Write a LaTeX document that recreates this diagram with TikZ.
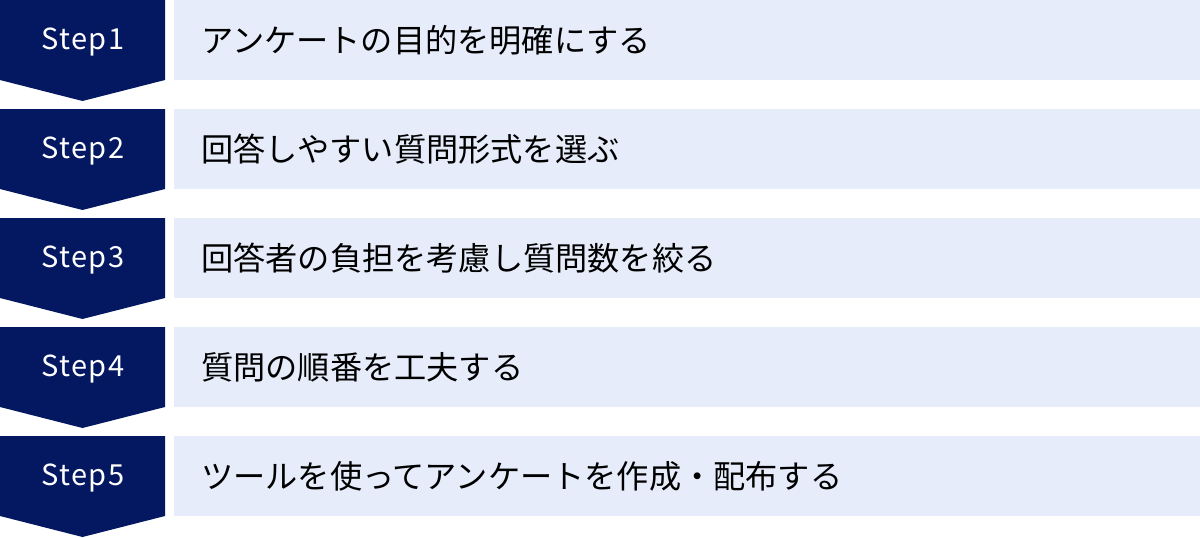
\documentclass[tikz,border=0pt]{standalone}
\usepackage{fontspec}
\setmainfont{Noto Sans CJK JP}
\newfontfamily\stepfont[LetterSpace=5]{Noto Sans CJK JP}
\definecolor{navy}{RGB}{3,24,96}
\definecolor{lightbg}{RGB}{230,236,250}
\begin{document}
\begin{tikzpicture}[x=1pt,y=-1pt,
  lightbox/.style={fill=lightbg, draw=none, anchor=north west, minimum width=1026pt, minimum height=80pt, inner sep=0pt},
  steplabel/.style={text=white, font=\stepfont\fontsize{29}{29}\selectfont, inner sep=0pt},
  desc/.style={text=black, font=\fontsize{32.2}{33}\selectfont, anchor=west, inner sep=0pt},
  chevron/.style={fill=navy, draw=none}]
\useasboundingbox (0,0) rectangle (1200,538);
% Step 1
\fill[chevron] (0,0) -- (165,0) -- (165,80) -- (82.5,101) -- (0,80) -- cycle;
\node[steplabel] (s1) at (83,42) {Step1};
\node[lightbox] (b1) at (174,0) {};
\node[desc] (t1) at (201,40) {アンケートの目的を明確にする};
% Step 2
\fill[chevron] (0,109) -- (165,109) -- (165,189) -- (82.5,210) -- (0,189) -- cycle;
\node[steplabel] (s2) at (83,151) {Step2};
\node[lightbox] (b2) at (174,109) {};
\node[desc] (t2) at (201,149) {回答しやすい質問形式を選ぶ};
% Step 3
\fill[chevron] (0,218) -- (165,218) -- (165,298) -- (82.5,319) -- (0,298) -- cycle;
\node[steplabel] (s3) at (83,260) {Step3};
\node[lightbox] (b3) at (174,218) {};
\node[desc] (t3) at (201,258) {回答者の負担を考慮し質問数を絞る};
% Step 4
\fill[chevron] (0,327) -- (165,327) -- (165,407) -- (82.5,428) -- (0,407) -- cycle;
\node[steplabel] (s4) at (83,369) {Step4};
\node[lightbox] (b4) at (174,327) {};
\node[desc] (t4) at (201,367) {質問の順番を工夫する};
% Step 5
\fill[chevron] (0,436) -- (165,436) -- (165,516) -- (82.5,537) -- (0,516) -- cycle;
\node[steplabel] (s5) at (83,478) {Step5};
\node[lightbox] (b5) at (174,436) {};
\node[desc] (t5) at (201,476) {ツールを使ってアンケートを作成・配布する};
\end{tikzpicture}
\end{document}
